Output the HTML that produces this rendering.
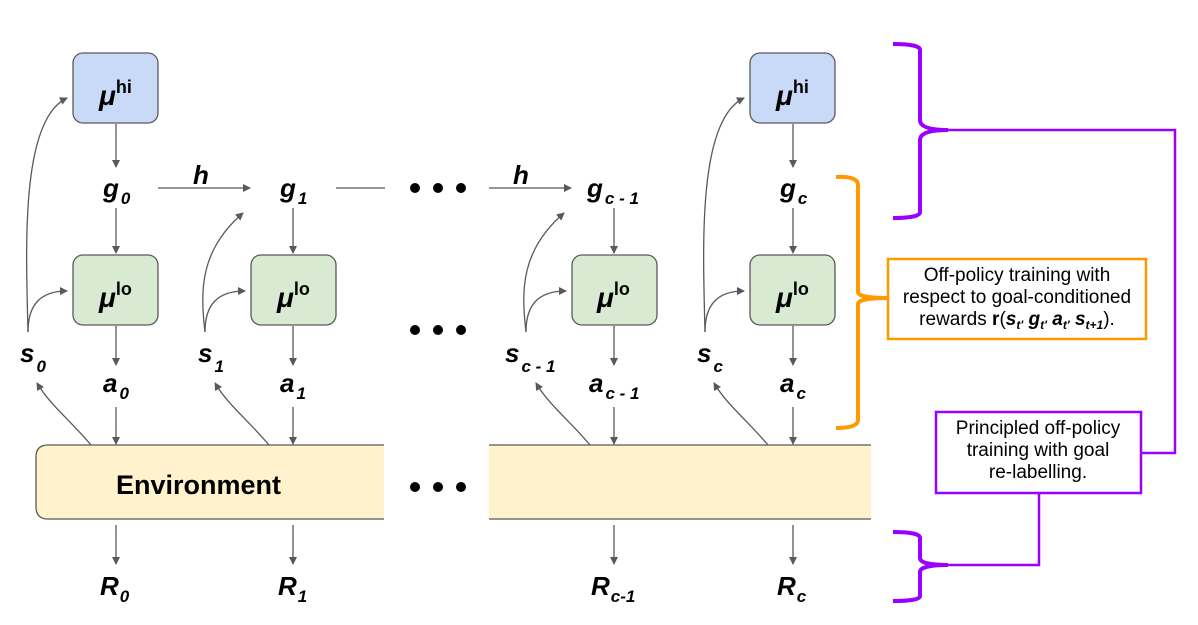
<!DOCTYPE html>
<html><head><meta charset="utf-8"><style>
html,body{margin:0;padding:0;background:#fff;}
svg{display:block;}
.v{font-family:"Liberation Sans",sans-serif;font-weight:bold;font-style:italic;fill:#000;}
.n{font-family:"Liberation Sans",sans-serif;fill:#000;}
</style></head><body>
<svg width="1198" height="625" viewBox="0 0 1198 625" xmlns="http://www.w3.org/2000/svg">
<defs>
<marker id="ar" markerWidth="8" markerHeight="8" refX="7" refY="4" orient="auto" markerUnits="userSpaceOnUse">
<path d="M0,0 L8,4 L0,8 z" fill="#595959"/></marker>
</defs>
<g stroke="#595959" stroke-width="1.3">
<rect x="73" y="53" width="85" height="70" rx="10" fill="#c9daf8"/>
<rect x="750" y="53" width="85" height="70" rx="10" fill="#c9daf8"/>
<rect x="73" y="255" width="85" height="70" rx="10" fill="#d9ead3"/>
<rect x="251" y="255" width="85" height="70" rx="10" fill="#d9ead3"/>
<rect x="572" y="255" width="85" height="70" rx="10" fill="#d9ead3"/>
<rect x="750" y="255" width="85" height="70" rx="10" fill="#d9ead3"/>
<path d="M384,445 L48,445 Q36,445 36,457 L36,507 Q36,519 48,519 L384,519" fill="#fff2cc"/>
<rect x="489" y="445" width="382" height="74" fill="#fff2cc" stroke="none"/>
<line x1="489" y1="445" x2="871" y2="445"/><line x1="489" y1="519" x2="871" y2="519"/>
</g>
<g stroke="#595959" stroke-width="1.3" fill="none" marker-end="url(#ar)">
<line x1="116" y1="124" x2="116" y2="167"/><line x1="793" y1="124" x2="793" y2="167"/>
<line x1="116" y1="208" x2="116" y2="253"/><line x1="293" y1="208" x2="293" y2="253"/>
<line x1="614" y1="208" x2="614" y2="253"/><line x1="793" y1="208" x2="793" y2="253"/>
<line x1="116" y1="326" x2="116" y2="365"/><line x1="293" y1="326" x2="293" y2="365"/>
<line x1="614" y1="326" x2="614" y2="365"/><line x1="793" y1="326" x2="793" y2="365"/>
<line x1="116" y1="407" x2="116" y2="444"/><line x1="293" y1="407" x2="293" y2="444"/>
<line x1="614" y1="407" x2="614" y2="444"/><line x1="793" y1="407" x2="793" y2="444"/>
<line x1="116" y1="525" x2="116" y2="564"/><line x1="293" y1="525" x2="293" y2="564"/>
<line x1="614" y1="525" x2="614" y2="564"/><line x1="793" y1="525" x2="793" y2="564"/>
<line x1="158" y1="188" x2="250" y2="188"/>
<line x1="489" y1="188" x2="571" y2="188"/>
<path d="M28,332 C26,250 20,120 67,98"/>
<path d="M705,332 C703,250 697,120 744,98"/>
<path d="M28,332 C28,305 40,291 67,291"/>
<path d="M205,332 C205,305 217,291 245,291"/>
<path d="M526,332 C526,305 538,291 566,291"/>
<path d="M705,332 C705,305 717,291 744,291"/>
<path d="M205,332 C200,290 200,250 243,213"/>
<path d="M526,332 C521,290 521,250 564,213"/>
<path d="M91,445 C70,420 50,405 37,383"/>
<path d="M269,445 C248,420 228,405 215,383"/>
<path d="M590,445 C569,420 549,405 536,383"/>
<path d="M768,445 C747,420 727,405 714,383"/>
</g>
<line x1="336" y1="188" x2="385" y2="188" stroke="#595959" stroke-width="1.3"/>
<g fill="#000">
<circle cx="415" cy="188" r="5"/><circle cx="438" cy="188" r="5"/><circle cx="461" cy="188" r="5"/>
<circle cx="415" cy="330" r="5"/><circle cx="438" cy="330" r="5"/><circle cx="461" cy="330" r="5"/>
<circle cx="415" cy="487" r="5"/><circle cx="438" cy="487" r="5"/><circle cx="461" cy="487" r="5"/>
</g>
<g class="v" font-size="28">
<text x="99" y="105">μ<tspan class="n" font-style="normal" font-size="18" dy="-12">hi</tspan></text>
<text x="776" y="105">μ<tspan class="n" font-style="normal" font-size="18" dy="-12">hi</tspan></text>
<text x="99" y="307">μ<tspan class="n" font-style="normal" font-size="18" dy="-12">lo</tspan></text>
<text x="277" y="307">μ<tspan class="n" font-style="normal" font-size="18" dy="-12">lo</tspan></text>
<text x="597" y="307">μ<tspan class="n" font-style="normal" font-size="18" dy="-12">lo</tspan></text>
<text x="776" y="307">μ<tspan class="n" font-style="normal" font-size="18" dy="-12">lo</tspan></text>
</g>
<g class="v" font-size="26">
<text x="193" y="184">h</text><text x="513" y="184">h</text>
<text x="103" y="197">g<tspan font-size="17" dy="7" dx="2">0</tspan></text>
<text x="280" y="197">g<tspan font-size="17" dy="7" dx="2">1</tspan></text>
<text x="587" y="197">g<tspan font-size="17" dy="7" dx="2">c - 1</tspan></text>
<text x="780" y="197">g<tspan font-size="17" dy="7" dx="2">c</tspan></text>
<text x="20" y="362">s<tspan font-size="17" dy="10" dx="2">0</tspan></text>
<text x="198" y="362">s<tspan font-size="17" dy="10" dx="2">1</tspan></text>
<text x="505" y="362">s<tspan font-size="17" dy="10" dx="2">c - 1</tspan></text>
<text x="697" y="362">s<tspan font-size="17" dy="10" dx="2">c</tspan></text>
<text x="103" y="392">a<tspan font-size="17" dy="7" dx="2">0</tspan></text>
<text x="280" y="392">a<tspan font-size="17" dy="7" dx="2">1</tspan></text>
<text x="589" y="392">a<tspan font-size="17" dy="7" dx="2">c - 1</tspan></text>
<text x="780" y="392">a<tspan font-size="17" dy="7" dx="2">c</tspan></text>
<text x="100" y="595">R<tspan font-size="17" dy="7" dx="1">0</tspan></text>
<text x="278" y="595">R<tspan font-size="17" dy="7" dx="1">1</tspan></text>
<text x="591" y="595">R<tspan font-size="17" dy="7" dx="1">c-1</tspan></text>
<text x="777" y="595">R<tspan font-size="17" dy="7" dx="1">c</tspan></text>
</g>
<text x="116" y="494" font-family="Liberation Sans, sans-serif" font-weight="bold" font-size="27">Environment</text>
<path d="M836,177 Q858,176 858,185 L858,292 Q858,298 888,298 Q858,298 858,304 L858,420 Q858,428 836,428" fill="none" stroke="#ff9900" stroke-width="4"/>
<rect x="888" y="259" width="258" height="80" fill="#fff" stroke="#ff9900" stroke-width="2.5"/>
<g class="n" font-size="19" text-anchor="middle">
<text x="1017" y="281">Off-policy training with</text>
<text x="1017" y="303">respect to goal-conditioned</text>
<text x="1017" y="325">rewards <tspan font-weight="bold">r</tspan>(<tspan font-weight="bold" font-style="italic">s</tspan><tspan font-size="12" font-style="italic" font-weight="bold" dy="4">t'</tspan><tspan dy="-4"> </tspan><tspan font-weight="bold" font-style="italic">g</tspan><tspan font-size="12" font-style="italic" font-weight="bold" dy="4">t'</tspan><tspan dy="-4"> </tspan><tspan font-weight="bold" font-style="italic">a</tspan><tspan font-size="12" font-style="italic" font-weight="bold" dy="4">t'</tspan><tspan dy="-4"> </tspan><tspan font-weight="bold" font-style="italic">s</tspan><tspan font-size="12" font-style="italic" font-weight="bold" dy="4">t+1</tspan><tspan dy="-4">).</tspan></text>
</g>
<g fill="none" stroke="#9900ff">
<path d="M893,44 Q920,44 920,50 L920,120 Q920,130 948,130 Q920,130 920,140 L920,212 Q920,218 893,218" stroke-width="4"/>
<path d="M893,532 Q920,532 920,538 L920,558 Q920,565 948,565 Q920,565 920,572 L920,596 Q920,601 893,601" stroke-width="4"/>
<polyline points="945,130 1175,130 1175,453 1142,453" stroke-width="2.5"/>
<polyline points="1039,493 1039,565 945,565" stroke-width="2.5"/>
<rect x="936" y="412" width="205" height="81" fill="#fff" stroke-width="2.5"/>
</g>
<g class="n" font-size="19" text-anchor="middle">
<text x="1038" y="434">Principled off-policy</text>
<text x="1038" y="456">training with goal</text>
<text x="1038" y="478">re-labelling.</text>
</g>
</svg>
</body></html>
